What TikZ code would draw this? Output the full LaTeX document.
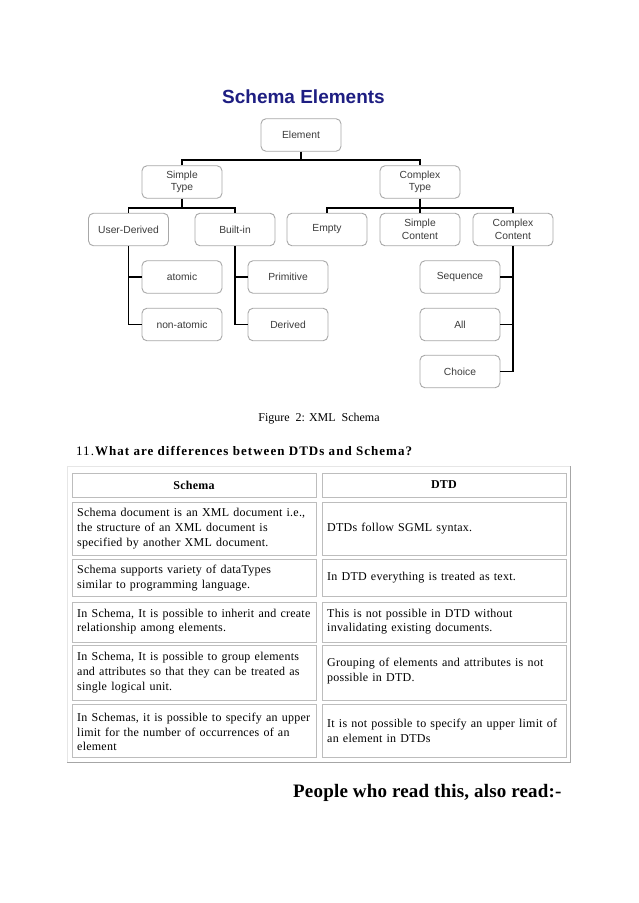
\documentclass[tikz,border=0pt]{standalone}
\usepackage{fontspec}
\setmainfont{Liberation Serif}
\newfontfamily\arialf{Liberation Sans}
\newfontfamily\tblfont{Liberation Serif}[LetterSpace=2, WordSpace=1.3]
\newfontfamily\qfont{Liberation Serif}[LetterSpace=8]
\newfontfamily\pfont{Liberation Serif}[LetterSpace=1]
\definecolor{titleblue}{HTML}{1E1E82}
\definecolor{boxgray}{HTML}{A8A8A8}
\definecolor{boxtext}{HTML}{3C3C3C}
\definecolor{cellgray}{HTML}{BDBDBD}
\definecolor{framelight}{HTML}{E6E6E6}
\definecolor{framedark}{HTML}{A6A6A6}
\begin{document}
\begin{tikzpicture}[x=1pt,y=-1pt,
 box/.style={draw=boxgray, line width=0.9pt, rounded corners=5pt, minimum width=80pt, minimum height=32.5pt, inner sep=0pt, align=center, font=\arialf\fontsize{10.3}{12.5}\selectfont, text=boxtext, fill=white},
 conn/.style={line width=1.8pt, black},
 cell/.style={draw=cellgray, line width=0.8pt},
 celltext/.style={anchor=west, align=left, inner sep=0pt, font=\tblfont\fontsize{12}{14.7}\selectfont},
 headtext/.style={inner sep=0pt, font=\tblfont\bfseries\fontsize{12}{14}\selectfont}
]
\useasboundingbox (0,0) rectangle (638,903);
\fill[white] (0,0) rectangle (638,903);

% title
\node[font=\arialf\bfseries\fontsize{19}{22}\selectfont, text=titleblue] (title) at (303.5,97) {Schema Elements};

\coordinate (j1) at (301,160);
\coordinate (j2) at (182,208);
\coordinate (j3) at (420,208);

% boxes
\node[box] (el) at (301,135) {Element};
\node[box] (st) at (182,182) {Simple\\Type};
\node[box] (ct) at (420,182) {Complex\\Type};
\node[box] (ud) at (128.5,229.5) {User-Derived};
\node[box] (bi) at (235,229.5) {Built-in};
\node[box] (em) at (327,229.5) {Empty};
\node[box] (sc) at (420,229.5) {Simple\\Content};
\node[box] (cc) at (513,229.5) {Complex\\Content};
\node[box] (at) at (182,277) {atomic};
\node[box] (na) at (182,324.5) {non-atomic};
\node[box] (pr) at (288,277) {Primitive};
\node[box] (de) at (288,324.5) {Derived};
\node[box] (sq) at (460,277) {Sequence};
\node[box] (al) at (460,324.5) {All};
\node[box] (ch) at (460,371.5) {Choice};

\draw[conn] (el.south) -- (j1);
\draw[conn] (st.north) |- (j1) -| (ct.north);
\draw[conn] (st.south) -- (j2);
\draw[conn] (ud.north) |- (j2) -| (bi.north);
\draw[conn] (ct.south) -- (sc.north);
\draw[conn] (em.north) |- (j3) -| (cc.north);
\draw[conn] (ud.south) |- (na.west);
\draw[conn] (ud.south |- at.west) -- (at.west);
\draw[conn] (bi.south) |- (de.west);
\draw[conn] (bi.south |- pr.west) -- (pr.west);
\draw[conn] (cc.south) |- (ch.east);
\draw[conn] (cc.south |- sq.east) -- (sq.east);
\draw[conn] (cc.south |- al.east) -- (al.east);

% caption and heading
\node[anchor=base, inner sep=0pt, font=\fontsize{12}{14}\selectfont] (cap) at (319,421) {Figure\ \ 2: XML\ \ Schema};
\node[anchor=base west, inner sep=0pt, font=\qfont\fontsize{13}{15}\selectfont] (q) at (76,455) {11.\textbf{What are differences between DTDs and Schema?}};

% table frame
\draw[framelight, line width=0.8pt] (67,466) rectangle (570,762);
\draw[framedark, line width=1pt] (570,466) -- (570,762) -- (67,762);

% cells
\foreach \ya/\yb in {473/497, 502/555, 559/596, 602/642, 645/700, 704/757}{
  \draw[cell] (72,\ya) rectangle (316,\yb);
  \draw[cell] (322,\ya) rectangle (566,\yb);
}

\node[headtext] (h1) at (194,485) {Schema};
\node[headtext] (h2) at (444,485) {DTD};

\node[celltext] (l1) at (77,528.5) {Schema document is an XML document i.e.,\\the structure of an XML document is\\specified by another XML document.};
\node[celltext] (r1) at (327,528.5) {DTDs follow SGML syntax.};
\node[celltext] (l2) at (77,578) {Schema supports variety of dataTypes\\similar to programming language.};
\node[celltext] (r2) at (327,578) {In DTD everything is treated as text.};
\node[celltext] (l3) at (77,621.5) {In Schema, It is possible to inherit and create\\relationship among elements.};
\node[celltext] (r3) at (327,621.5) {This is not possible in DTD without\\invalidating existing documents.};
\node[celltext] (l4) at (77,672.5) {In Schema, It is possible to group elements\\and attributes so that they can be treated as\\single logical unit.};
\node[celltext] (r4) at (327,671) {Grouping of elements and attributes is not\\possible in DTD.};
\node[celltext] (l5) at (77,732) {In Schemas, it is possible to specify an upper\\limit for the number of occurrences of an\\element};
\node[celltext] (r5) at (327,730.5) {It is not possible to specify an upper limit of\\an element in DTDs};

\node[anchor=base west, inner sep=0pt, font=\pfont\bfseries\fontsize{19}{22}\selectfont] (p) at (293,797) {People who read this, also read:-};
\end{tikzpicture}
\end{document}
